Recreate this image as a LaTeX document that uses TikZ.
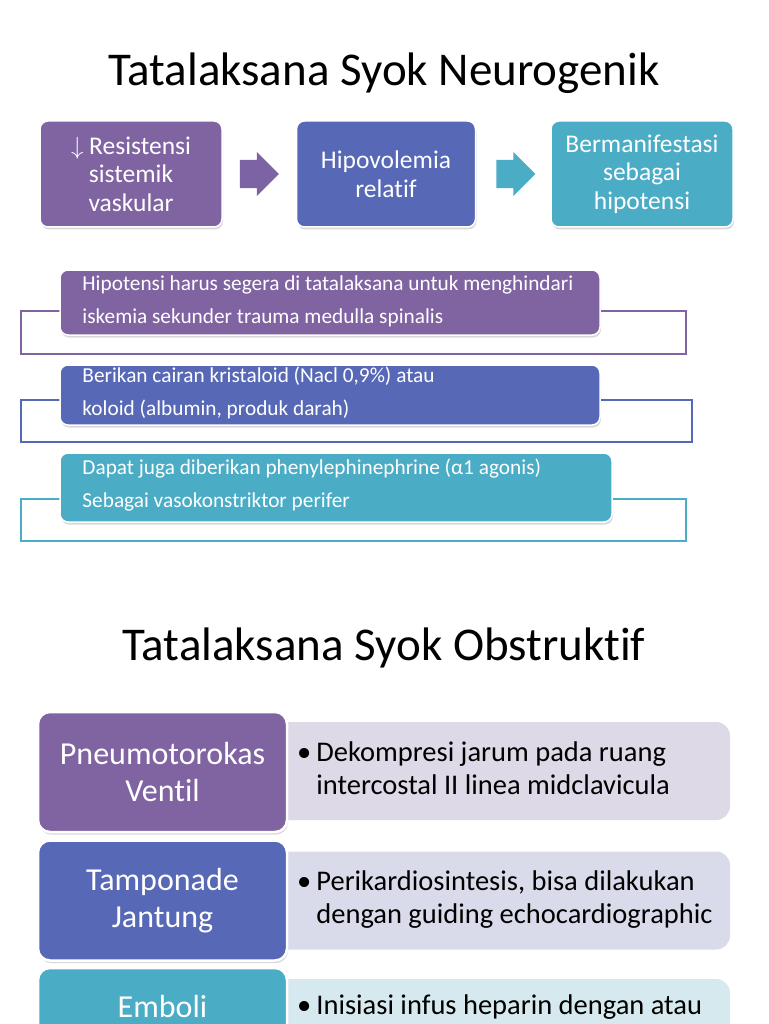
\documentclass[tikz,border=0pt]{standalone}
\usepackage{fontspec}
\setmainfont{Carlito}[Ligatures=NoCommon]
\usepackage{tikz}
\usetikzlibrary{shapes.arrows,shadows,positioning}
\definecolor{violetbox}{RGB}{128, 100, 162}
\definecolor{indigobox}{RGB}{86, 104, 182}
\definecolor{tealbox}{RGB}{75, 172, 198}
\definecolor{violetpale}{RGB}{221, 217, 230}
\definecolor{indigopale}{RGB}{217, 219, 234}
\definecolor{tealpale}{RGB}{214, 233, 239}

\begin{document}
\begin{tikzpicture}[x=1pt,y=-1pt,
    flowbox/.style={rounded corners=8pt,draw=white,line width=1.5pt,text=white,align=center,
        minimum height=106pt,inner sep=0pt,font=\fontsize{25.5}{28.5}\selectfont,
        drop shadow={opacity=0.3,shadow xshift=1pt,shadow yshift=-2.5pt}},
    blockarrow/.style={single arrow,single arrow head extend=8pt,minimum height=39pt,
        minimum width=44pt,inner xsep=0pt,inner ysep=14pt},
    stepbox/.style={rounded corners=8pt,draw=white,line width=1.5pt,
        drop shadow={opacity=0.3,shadow xshift=1pt,shadow yshift=-2.5pt}},
    steptext/.style={anchor=west,text=white,align=left,inner sep=0pt,
        font=\fontsize{21.3}{33}\selectfont},
    frame/.style={line width=1.3pt},
    causebox/.style={rounded corners=12pt,draw=white,line width=2.5pt,text=white,align=center,
        minimum width=249pt,minimum height=120pt,font=\fontsize{32}{37}\selectfont,
        drop shadow={opacity=0.3,shadow xshift=1pt,shadow yshift=-2.5pt}},
    actionbox/.style={rounded corners=14pt,minimum width=460pt,minimum height=98pt},
    actiontext/.style={anchor=west,align=left,inner sep=0pt,font=\fontsize{28.5}{33}\selectfont}]
    \clip (0,0) rectangle (768,1024);
    \fill[white] (0,0) rectangle (768,1024);

    % Neurogenic shock
    \node[font=\fontsize{47}{50}\selectfont] (titleA) at (384,73) {Tatalaksana Syok Neurogenik};

    \node[flowbox,fill=violetbox,minimum width=182pt] (resist) at (131,174)
        {$\downarrow$ Resistensi\\sistemik\\vaskular};
    \node[flowbox,fill=indigobox,minimum width=179pt,right=73pt of resist] (hipovol)
        {Hipovolemia\\relatif};
    \node[flowbox,fill=tealbox,minimum width=182pt,right=74pt of hipovol] (hipotensi)
        {Bermanifestasi\\sebagai\\hipotensi};
    \node[blockarrow,fill=violetbox!90!indigobox,right=17pt of resist] (arrowA) {};
    \node[blockarrow,fill=tealbox,right=20pt of hipovol] (arrowB) {};

    % treatment steps
    \draw[frame,violetbox] (21,311) rectangle (686,354);
    \node[stepbox,fill=violetbox,minimum width=540pt,minimum height=65pt] (stepA) at (330,302.5) {};
    \node[steptext] (stepAtxt) at ([xshift=23pt,yshift=1.5pt]stepA.west)
        {Hipotensi harus segera di tatalaksana untuk menghindari\\iskemia sekunder trauma medulla spinalis};
    \draw[frame,indigobox] (21,400) rectangle (692,442);
    \node[stepbox,fill=indigobox,minimum width=540pt,minimum height=60pt] (stepB) at (330,395) {};
    \node[steptext] (stepBtxt) at ([xshift=23pt,yshift=2.5pt]stepB.west)
        {Berikan cairan kristaloid (Nacl 0,9\%) atau\\koloid (albumin, produk darah)};
    \draw[frame,tealbox] (21,499) rectangle (686,541);
    \node[stepbox,fill=tealbox,minimum width=552pt,minimum height=69pt] (stepC) at (336,487.5) {};
    \node[steptext] (stepCtxt) at ([xshift=23pt,yshift=2pt]stepC.west)
        {Dapat juga diberikan phenylephinephrine (α1 agonis)\\Sebagai vasokonstriktor perifer};

    % Obstructive shock
    \node[font=\fontsize{47}{50}\selectfont] (titleB) at (384,648) {Tatalaksana Syok Obstruktif};

    \node[actionbox,fill=violetpale] (actA) at (500,771) {};
    \node[actionbox,fill=indigopale] (actB) at (500,900.5) {};
    \node[actionbox,fill=tealpale] (actC) at (500,1028) {};
    \node[causebox,fill=violetbox] (pneumo) at (162.5,772) {Pneumotorokas\\Ventil};
    \node[causebox,fill=indigobox] (tampon) at (162.5,900.5) {Tamponade\\Jantung};
    \node[causebox,fill=tealbox] (emboli) at (162.5,1028) {};
    \node[text=white,font=\fontsize{32}{37}\selectfont] (emboliTxt) at (162.5,1006) {Emboli};

    \node[actiontext] (actAtxt) at (297,771)
        {\begin{tabular}{@{}l@{\hspace{5pt}}l@{}}•&Dekompresi jarum pada ruang\\&intercostal II linea midclavicula\end{tabular}};
    \node[actiontext] (actBtxt) at (297,900.5)
        {\begin{tabular}{@{}l@{\hspace{5pt}}l@{}}•&Perikardiosintesis, bisa dilakukan\\&dengan guiding echocardiographic\end{tabular}};
    \node[actiontext] (actCtxt) at (297,1008)
        {\begin{tabular}{@{}l@{\hspace{5pt}}l@{}}•&Inisiasi infus heparin dengan atau\end{tabular}};
\end{tikzpicture}
\end{document}
